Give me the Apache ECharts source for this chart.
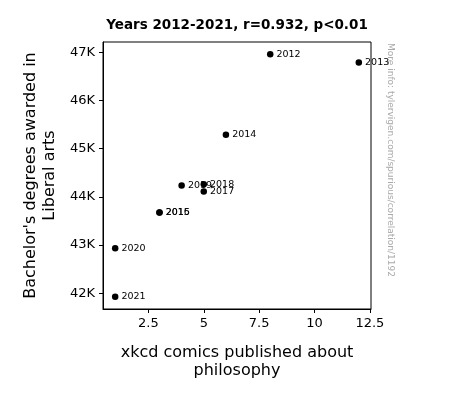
<!DOCTYPE html>
<html>
<head>
<meta charset="utf-8">
<script src="https://cdn.jsdelivr.net/npm/echarts@6/dist/echarts.min.js"></script>
<style>html,body{margin:0;padding:0;background:#fff;}#c{width:474px;height:412px;}</style>
</head>
<body>
<div id="c"></div>
<script>
var years = ['2012','2013','2014','2015','2016','2017','2018','2019','2020','2021'];
var comics = [8, 12, 6, 3, 3, 5, 5, 4, 1, 1];
var degrees = [46965, 46793, 45293, 43678, 43674, 44110, 44261, 44234, 42933, 41923];
var xTicks = [2.5, 5, 7.5, 10, 12.5];
var yTicks = [42000, 43000, 44000, 45000, 46000, 47000];

var FONT = 'DejaVu Sans';
var data = years.map(function (y, i) { return { value: [comics[i], degrees[i]], name: y }; });

var chart = echarts.init(document.getElementById('c'), null, { renderer: 'canvas' });
chart.setOption({
  animation: false,
  textStyle: { fontFamily: FONT },
  title: {
    text: 'Years 2012-2021, r=0.932, p<0.01',
    left: 'center', top: 13,
    textStyle: { fontFamily: FONT, fontSize: 13.5, fontWeight: 'bold', color: '#000' }
  },
  grid: { left: 103, right: 103, top: 42, bottom: 103, show: true, borderColor: '#000', borderWidth: 1, backgroundColor: 'transparent' },
  xAxis: {
    type: 'value', min: 0.45, max: 12.55,
    name: 'xkcd comics published about\nphilosophy', nameLocation: 'middle', nameGap: 35,
    nameTextStyle: { fontFamily: FONT, fontSize: 16, color: '#000', lineHeight: 18 },
    axisLine: { show: true, onZero: false, lineStyle: { color: '#000', width: 1 } },
    axisTick: { show: true, length: 4, customValues: xTicks, lineStyle: { color: '#000' } },
    axisLabel: { customValues: xTicks, fontFamily: FONT, fontSize: 13, color: '#000', margin: 8 },
    splitLine: { show: false }
  },
  yAxis: {
    type: 'value', min: 41671, max: 47217,
    name: "Bachelor's degrees awarded in\nLiberal arts", nameLocation: 'middle', nameGap: 42,
    nameTextStyle: { fontFamily: FONT, fontSize: 16, color: '#000', lineHeight: 19 },
    axisLine: { show: true, onZero: false, lineStyle: { color: '#000', width: 1 } },
    axisTick: { show: true, length: 4, customValues: yTicks, lineStyle: { color: '#000' } },
    axisLabel: { customValues: yTicks, fontFamily: FONT, fontSize: 13, color: '#000', margin: 8,
      formatter: function (v) { return Math.round(v / 1000) + 'K'; } },
    splitLine: { show: false }
  },
  graphic: [{
    type: 'text', x: 395, y: 43, rotation: -Math.PI / 2,
    style: { text: 'More info: tylervigen.com/spurious/correlation/1192', fontFamily: FONT, fontSize: 9, fill: '#aaaaaa', textVerticalAlign: 'top' }
  }],
  series: [{
    type: 'scatter', symbolSize: 6.5, data: data,
    itemStyle: { color: '#000', opacity: 1 },
    label: { show: true, position: 'right', distance: 3, formatter: '{b}', fontFamily: FONT, fontSize: 9.5, color: '#000' }
  }]
});
</script>
</body>
</html>
